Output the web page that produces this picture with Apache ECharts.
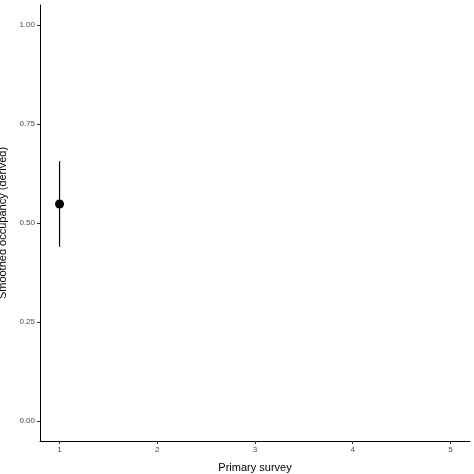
<!DOCTYPE html>
<html>
<head>
<meta charset="utf-8">
<script src="https://cdn.jsdelivr.net/npm/echarts@6/dist/echarts.min.js"></script>
<style>html,body{margin:0;padding:0;background:#fff}#chart{width:474px;height:474px}</style>
</head>
<body>
<div id="chart"></div>
<script>
// survey data
var surveys = [1];
var occupancy = [0.548];
var lower = [0.44];
var upper = [0.656];
var xTicks = [1, 2, 3, 4, 5];
var yTicks = [0, 0.25, 0.5, 0.75, 1];

var points = surveys.map(function (s, i) { return [s, occupancy[i]]; });
var bars = surveys.map(function (s, i) { return [s, lower[i], upper[i]]; });

var chart = echarts.init(document.getElementById('chart'));
var option = {
  animation: false,
  grid: { left: 40, right: 4, top: 5, bottom: 33, containLabel: false, outerBoundsMode: 'none' },
  xAxis: {
    type: 'value', min: 0.8, max: 5.2,
    name: 'Primary survey', nameLocation: 'middle', nameGap: 21,
    nameTextStyle: { color: '#000', fontSize: 11, fontFamily: 'Liberation Sans' },
    splitLine: { show: false },
    axisLine: { onZero: false, lineStyle: { color: '#000', width: 1 } },
    axisTick: { length: 3, lineStyle: { color: '#333' }, customValues: xTicks },
    axisLabel: { color: '#4d4d4d', fontSize: 8, margin: 5, fontFamily: 'Liberation Sans', customValues: xTicks }
  },
  yAxis: {
    type: 'value', min: -0.05, max: 1.05,
    name: 'Smoothed occupancy (derived)', nameLocation: 'middle', nameGap: 29,
    nameTextStyle: { color: '#000', fontSize: 11, fontFamily: 'Liberation Sans' },
    splitLine: { show: false },
    axisLine: { show: true, onZero: false, lineStyle: { color: '#000', width: 1 } },
    axisTick: { show: true, length: 3, lineStyle: { color: '#333' }, customValues: yTicks },
    axisLabel: { color: '#4d4d4d', fontSize: 8, margin: 5, fontFamily: 'Liberation Sans', customValues: yTicks,
      formatter: function (v) { return v.toFixed(2); } }
  },
  series: [
    {
      type: 'custom',
      data: bars,
      renderItem: function (params, api) {
        var lo = api.coord([api.value(0), api.value(1)]);
        var hi = api.coord([api.value(0), api.value(2)]);
        return { type: 'line', shape: { x1: lo[0], y1: lo[1], x2: hi[0], y2: hi[1] },
          style: { stroke: '#000', lineWidth: 1.2 } };
      }
    },
    {
      type: 'scatter', data: points, symbolSize: 9,
      itemStyle: { color: '#000', opacity: 1 }
    }
  ]
};
chart.setOption(option);
</script>
</body>
</html>
